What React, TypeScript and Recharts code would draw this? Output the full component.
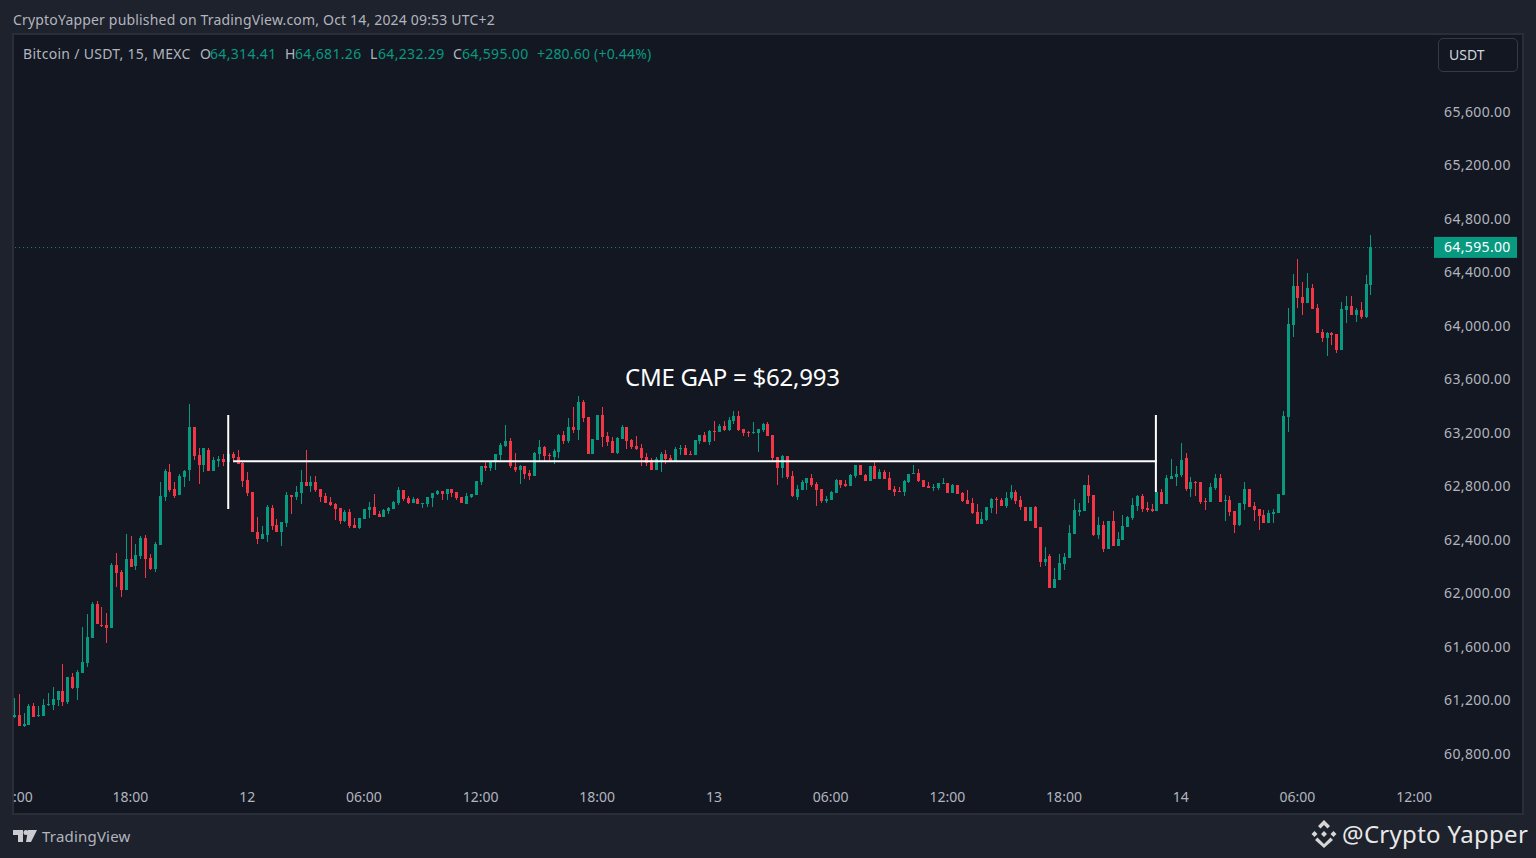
import { Bar, ComposedChart, ReferenceLine, XAxis, YAxis } from "recharts";

const UI_FONT = "'Noto Sans', sans-serif";
const UP = "#089981";
const DOWN = "#f23645";
const INK = "#b2b5be";

// 15m candles from Oct 11 12:00
const opens = [
  61080,61095,61013,61021,61163,61088,61088,61170,61170,61207,
  61275,61192,61379,61297,61409,61484,61671,61925,61768,61768,
  61746,62217,62164,62030,62262,62209,62284,62419,62269,62187,
  62366,62725,62912,62785,62740,62875,62927,63248,63039,62964,
  63076,62919,62994,63009,62987,63047,63024,62979,62852,62762,
  62463,62411,62441,62643,62516,62463,62531,62740,62725,62755,
  62837,62807,62837,62785,62733,62688,62673,62643,62546,62613,
  62516,62493,62561,62628,62650,62598,62576,62620,62635,62680,
  62777,62718,62680,62710,62673,62673,62718,62747,62770,62747,
  62785,62762,62725,62673,62725,62740,62837,62957,62942,62987,
  63039,63106,63144,62949,62927,62957,62904,62882,63047,63099,
  63039,63024,63061,63189,63144,63248,63226,63435,63323,63047,
  63151,63338,63181,63144,63054,63159,63248,63151,63106,63091,
  63024,63002,62927,62987,63047,63017,62994,63084,63091,63047,
  63039,63144,63189,63136,63218,63211,63256,63226,63293,63331,
  63233,63211,63204,63204,63226,63271,63189,63024,62942,63032,
  62882,62725,62778,62830,62867,62822,62785,62695,62703,62755,
  62853,62822,62807,62882,62964,62890,62845,62957,62860,62912,
  62867,62785,62770,62762,62837,62897,62905,62853,62807,62793,
  62793,62822,62830,62755,62815,62755,62703,62680,62613,62523,
  62553,62643,62710,62703,62658,62718,62762,62703,62651,62546,
  62651,62501,62239,62284,62045,62105,62224,62269,62449,62613,
  62621,62815,62741,62441,62516,62337,62546,62359,62404,62501,
  62569,62658,62733,62643,62636,62621,62763,62673,62860,62875,
  62890,63017,62785,62838,62838,62696,62688,62793,62868,62696,
  62703,62621,62516,62673,62785,62658,62636,62591,62531,62598,
  62606,62741,63324,64011,64303,64221,64176,64288,64138,63959,
  63914,63952,63944,63824,64124,64153,64086,64124,64071,64314.41,
];
const highs = [
  61222,61252,61110,61178,61185,61163,61215,61260,61305,61275,
  61477,61379,61409,61432,61753,61850,61940,61948,61903,61858,
  62232,62306,62179,62448,62434,62374,62434,62441,62299,62389,
  62837,62934,62972,62837,62897,62927,63420,63248,63091,63091,
  63091,63024,63032,63047,63159,63061,63076,62994,62912,62762,
  62576,62508,62665,62665,62561,62538,62762,62740,62807,62927,
  63076,62882,62882,62785,62755,62725,62680,62643,62628,62635,
  62568,62568,62635,62688,62747,62620,62635,62650,62695,62800,
  62777,62733,62725,62718,62680,62725,62755,62777,62770,62785,
  62785,62762,62725,62755,62747,62845,62957,62994,62994,63047,
  63129,63263,63166,63054,62964,62957,62927,63061,63151,63106,
  63054,63084,63196,63218,63316,63398,63480,63450,63323,63159,
  63338,63398,63211,63174,63174,63263,63248,63159,63181,63121,
  63054,63017,63024,63061,63076,63039,63099,63114,63114,63069,
  63151,63189,63211,63226,63293,63271,63293,63323,63368,63368,
  63233,63218,63286,63233,63278,63286,63189,63024,63039,63032,
  62920,62815,62853,62867,62897,62837,62785,62733,62770,62860,
  62853,62853,62897,62964,62964,62897,62957,62987,62935,62927,
  62912,62807,62800,62853,62897,62964,62935,62853,62837,62822,
  62830,62867,62830,62822,62815,62762,62778,62718,62673,62613,
  62651,62718,62725,62718,62762,62815,62778,62733,62651,62651,
  62658,62501,62351,62299,62194,62299,62307,62516,62711,62681,
  62815,62890,62741,62576,62546,62546,62621,62464,62591,62583,
  62718,62741,62748,62688,62673,62763,62785,62890,63010,62957,
  63129,63055,62875,62845,62838,62718,62830,62898,62898,62741,
  62733,62621,62681,62838,62785,62688,62636,62628,62628,62636,
  62748,63368,64138,64393,64505,64333,64400,64318,64168,63981,
  63959,63959,63944,64183,64228,64228,64138,64183,64385,64681.26,
];
const lows = [
  61073,61013,61006,61021,61080,61080,61088,61163,61133,61163,
  61163,61178,61290,61207,61409,61454,61671,61776,61753,61634,
  61746,62052,61977,62030,62202,62179,62262,62120,62179,62164,
  62366,62695,62762,62718,62740,62800,62845,63002,62822,62912,
  62919,62919,62949,62957,62987,62987,62972,62800,62733,62463,
  62374,62411,62389,62478,62463,62359,62501,62598,62703,62673,
  62807,62762,62762,62688,62680,62658,62553,62523,62538,62493,
  62493,62486,62561,62568,62590,62576,62576,62598,62635,62665,
  62695,62673,62680,62673,62643,62650,62650,62740,62703,62703,
  62725,62703,62680,62673,62718,62740,62815,62919,62919,62927,
  63002,63099,62942,62912,62822,62860,62852,62882,62987,62987,
  62994,62972,63017,63121,63129,63204,63151,63286,63047,63047,
  63151,63099,63106,63054,63047,63159,63084,63084,63076,62957,
  62957,62927,62927,62912,62972,62994,62994,63039,63039,63039,
  63039,63121,63136,63114,63144,63211,63218,63218,63271,63218,
  63181,63174,63196,63061,63211,63181,62994,62815,62867,62860,
  62725,62703,62778,62778,62800,62658,62680,62680,62703,62755,
  62793,62800,62807,62867,62890,62845,62845,62860,62860,62860,
  62778,62733,62762,62733,62830,62897,62837,62800,62793,62770,
  62778,62822,62755,62755,62748,62688,62673,62598,62523,62523,
  62546,62606,62598,62658,62643,62703,62673,62628,62546,62546,
  62494,62202,62209,62045,62045,62105,62179,62269,62449,62583,
  62621,62681,62434,62412,62314,62337,62359,62359,62404,62501,
  62554,62621,62613,62613,62613,62621,62673,62673,62860,62808,
  62875,62770,62726,62733,62673,62628,62688,62778,62688,62546,
  62583,62456,62509,62628,62651,62546,62479,62531,62531,62531,
  62606,62741,63211,63922,64138,64086,64176,64131,63952,63884,
  63780,63862,63802,63824,64026,64086,64034,64056,64064,64232.29,
];
const closes = [
  61095,61013,61028,61163,61080,61095,61170,61178,61215,61275,
  61192,61379,61297,61417,61492,61678,61925,61776,61761,61746,
  62217,62157,62030,62262,62202,62291,62419,62262,62187,62374,
  62733,62919,62777,62733,62882,62919,63248,63032,62964,63091,
  62919,63002,63009,62987,63047,63017,62972,62845,62755,62463,
  62411,62448,62650,62508,62463,62538,62740,62725,62762,62837,
  62807,62837,62777,62725,62680,62665,62635,62546,62613,62508,
  62493,62568,62635,62650,62590,62576,62628,62643,62688,62777,
  62710,62680,62710,62673,62680,62725,62755,62770,62747,62785,
  62755,62718,62680,62733,62747,62845,62957,62942,62994,63047,
  63114,63144,62957,62927,62957,62897,62882,63054,63099,63032,
  63032,63069,63189,63144,63248,63226,63435,63316,63047,63159,
  63338,63174,63136,63054,63166,63248,63144,63099,63084,63017,
  62979,62927,63009,63047,63009,62994,63084,63091,63039,63039,
  63151,63189,63136,63218,63211,63256,63226,63301,63331,63226,
  63204,63204,63211,63233,63271,63181,63017,62942,63032,62875,
  62733,62785,62837,62867,62815,62778,62695,62710,62762,62853,
  62815,62807,62890,62964,62890,62845,62957,62860,62912,62860,
  62778,62762,62762,62845,62897,62905,62845,62800,62793,62800,
  62830,62830,62755,62815,62748,62695,62673,62606,62523,62561,
  62651,62710,62703,62658,62718,62762,62695,62651,62546,62651,
  62494,62239,62262,62045,62112,62232,62277,62456,62628,62628,
  62815,62733,62441,62516,62337,62546,62359,62412,62509,62576,
  62666,62733,62636,62628,62621,62763,62673,62868,62883,62898,
  63002,62785,62838,62830,62688,62688,62800,62868,62688,62703,
  62613,62516,62681,62785,62651,62628,62583,62531,62606,62613,
  62748,63331,64019,64303,64213,64176,64288,64131,63952,63914,
  63952,63937,63824,64131,64153,64086,64124,64071,64318,64595,
];

const priceTicks = [60800, 61200, 61600, 62000, 62400, 62800, 63200, 63600, 64000, 64400, 64800, 65200, 65600];
const timeTickSlots = [0, 24, 48, 72, 96, 120, 144, 168, 192, 216, 240, 264, 288];
const timeTickLabels = [":00", "18:00", "12", "06:00", "12:00", "18:00", "13", "06:00", "12:00", "18:00", "14", "06:00", "12:00"];

const SLOTS = 292; // room to the right of the last candle
const LAST_PRICE = 64595;
const GAP_PRICE = 62993;
const GAP_TOP = 63338;
const GAP_LEFT_BOTTOM = 62635;
const GAP_RIGHT_BOTTOM = 62762;
const GAP_START_SLOT = 44;
const GAP_END_SLOT = 235;

const rows = Array.from({ length: SLOTS }, (_, i) =>
  i < opens.length
    ? { slot: i, open: opens[i], close: closes[i], high: highs[i], low: lows[i], range: [lows[i], highs[i]] }
    : { slot: i, range: null },
);

function Candle(props: any) {
  const { x, y, width, height, payload } = props;
  if (payload.range == null) return null;
  const { open, close, high, low } = payload;
  const perDollar = height / (high - low);
  const color = close >= open ? UP : DOWN;
  const mid = x + width / 2;
  const bodyTop = y + (high - Math.max(open, close)) * perDollar;
  const bodyHeight = Math.max(Math.abs(open - close) * perDollar, 1);
  return (
    <g shapeRendering="crispEdges">
      <rect x={Math.round(mid - 0.5)} y={y} width={1} height={height} fill={color} />
      <rect x={Math.round(mid - 1.5)} y={Math.round(bodyTop)} width={3} height={Math.max(Math.round(bodyHeight), 1)} fill={color} />
    </g>
  );
}

function TimeTick({ x, y, payload }: any) {
  const first = payload.value === 0;
  return (
    <text
      x={first ? 13 : x - 0.5}
      y={y}
      dy="0.8em"
      textAnchor={first ? "start" : "middle"}
      fill={INK}
      fontSize={14}
      fontFamily={UI_FONT}
    >
      {timeTickLabels[timeTickSlots.indexOf(payload.value)]}
    </text>
  );
}

function LastPriceTag(props: any) {
  const y = props.viewBox.y;
  return (
    <g>
      <rect x={1434} y={y - 10} width={83} height={21} fill={UP} />
      <text x={1444} y={y + 5} fill="#ffffff" fontSize={14} fontFamily={UI_FONT} style={{ letterSpacing: 0.35 }}>
        64,595.00
      </text>
    </g>
  );
}

function Label({ x, y, color = INK, size = 14, spacing = 0, children }: any) {
  return (
    <span
      style={{
        position: "absolute",
        left: x,
        top: y,
        transform: "translateY(-50%)",
        color,
        fontSize: size,
        letterSpacing: spacing,
        fontFamily: UI_FONT,
        whiteSpace: "nowrap",
      }}
    >
      {children}
    </span>
  );
}

export default function App() {
  return (
    <div style={{ position: "absolute", left: 0, top: 0, width: 1536, height: 858, background: "#1e222d", overflow: "hidden" }}>
      <div
        style={{
          position: "absolute",
          left: 12,
          top: 33,
          width: 1508,
          height: 778,
          background: "#131722",
          border: "2px solid #2a2e39",
        }}
      />
      <div style={{ position: "absolute", left: 0, top: 0 }}>
        <ComposedChart
          width={1536}
          height={858}
          data={rows}
          margin={{ top: 36, right: 0, bottom: 44, left: 11.87 }}
          barCategoryGap={0}
        >
          <XAxis
            dataKey="slot"
            ticks={timeTickSlots}
            interval={0}
            height={28}
            axisLine={false}
            tickLine={false}
            tickSize={0}
            tickMargin={5}
            tick={<TimeTick />}
          />
          <YAxis
            orientation="right"
            width={104.4}
            domain={[60564, 66172]}
            allowDataOverflow
            ticks={priceTicks}
            interval={0}
            axisLine={false}
            tickLine={false}
            tickSize={0}
            tickMargin={12.5}
            tickFormatter={(v) => Number(v).toLocaleString("en-US", { minimumFractionDigits: 2 })}
            tick={{ fill: INK, fontSize: 14, fontFamily: UI_FONT, letterSpacing: 0.35, dy: -0.5 }}
          />
          <ReferenceLine
            y={LAST_PRICE}
            stroke={UP}
            strokeOpacity={0.85}
            strokeDasharray="1 3"
            shapeRendering="crispEdges"
            transform="translate(0 1)"
            label={<LastPriceTag />}
          />
          <ReferenceLine
            segment={[{ x: GAP_END_SLOT, y: GAP_TOP }, { x: GAP_END_SLOT, y: GAP_RIGHT_BOTTOM }]}
            stroke="#ffffff"
            strokeWidth={2}
            transform="translate(-1 0)"
          />
          <Bar dataKey="range" shape={<Candle />} isAnimationActive={false} />
          <ReferenceLine
            segment={[{ x: GAP_START_SLOT, y: GAP_TOP }, { x: GAP_START_SLOT, y: GAP_LEFT_BOTTOM }]}
            stroke="#ffffff"
            strokeWidth={2}
          />
          <ReferenceLine
            segment={[{ x: GAP_START_SLOT + 1, y: GAP_PRICE }, { x: GAP_END_SLOT, y: GAP_PRICE }]}
            stroke="#ffffff"
            strokeWidth={2}
          />
        </ComposedChart>
      </div>

      <Label x={13} y={19} spacing={0.18}>CryptoYapper published on TradingView.com, Oct 14, 2024 09:53 UTC+2</Label>
      <Label x={23} y={53} spacing={0.3}>Bitcoin / USDT, 15, MEXC</Label>
      <Label x={200} y={53}>O</Label>
      <Label x={210} y={53} color={UP} spacing={0.33}>64,314.41</Label>
      <Label x={285} y={53}>H</Label>
      <Label x={295} y={53} color={UP} spacing={0.33}>64,681.26</Label>
      <Label x={370} y={53}>L</Label>
      <Label x={378} y={53} color={UP} spacing={0.33}>64,232.29</Label>
      <Label x={453} y={53}>C</Label>
      <Label x={462} y={53} color={UP} spacing={0.33}>64,595.00</Label>
      <Label x={537} y={53} color={UP} spacing={0.2}>+280.60 (+0.44%)</Label>
      <div
        style={{
          position: "absolute",
          left: 1438,
          top: 38,
          width: 78,
          height: 32,
          border: "1px solid #363a45",
          borderRadius: 5,
        }}
      />
      <Label x={1449} y={54} color="#d1d4dc">USDT</Label>
      <Label x={625} y={376} color="#ffffff" size={24} spacing={-0.25}>CME GAP = $62,993</Label>

      <svg style={{ position: "absolute", left: 13, top: 830 }} width={24} height={13} viewBox="0 0 24 13">
        <path d="M0 0h10v12H5V5H0z M15 0h9l-6 12h-5z" fill="#c9cbd1" />
        <circle cx={13} cy={2.5} r={2.5} fill="#c9cbd1" />
      </svg>
      <Label x={42} y={836} size={15} spacing={0.2}>TradingView</Label>

      <svg style={{ position: "absolute", left: 1311, top: 820 }} width={26} height={28} viewBox="0 0 26 28">
        <path d="M13 0l6 6-2.500 2.500L13 5 9.500 8.500 7 6z M3.500 11l3 3-3 3-3-3z M22.500 11l3 3-3 3-3-3z M13 11l3 3-3 3-3-3z M6.500 17.500L13 24l6.500-6.500 2.500 2.500-9 8-9-8z" fill="#d6d6d6" />
      </svg>
      <Label x={1342} y={833} color="#e8e8e8" size={24} spacing={0.3}>@Crypto Yapper</Label>
    </div>
  );
}
